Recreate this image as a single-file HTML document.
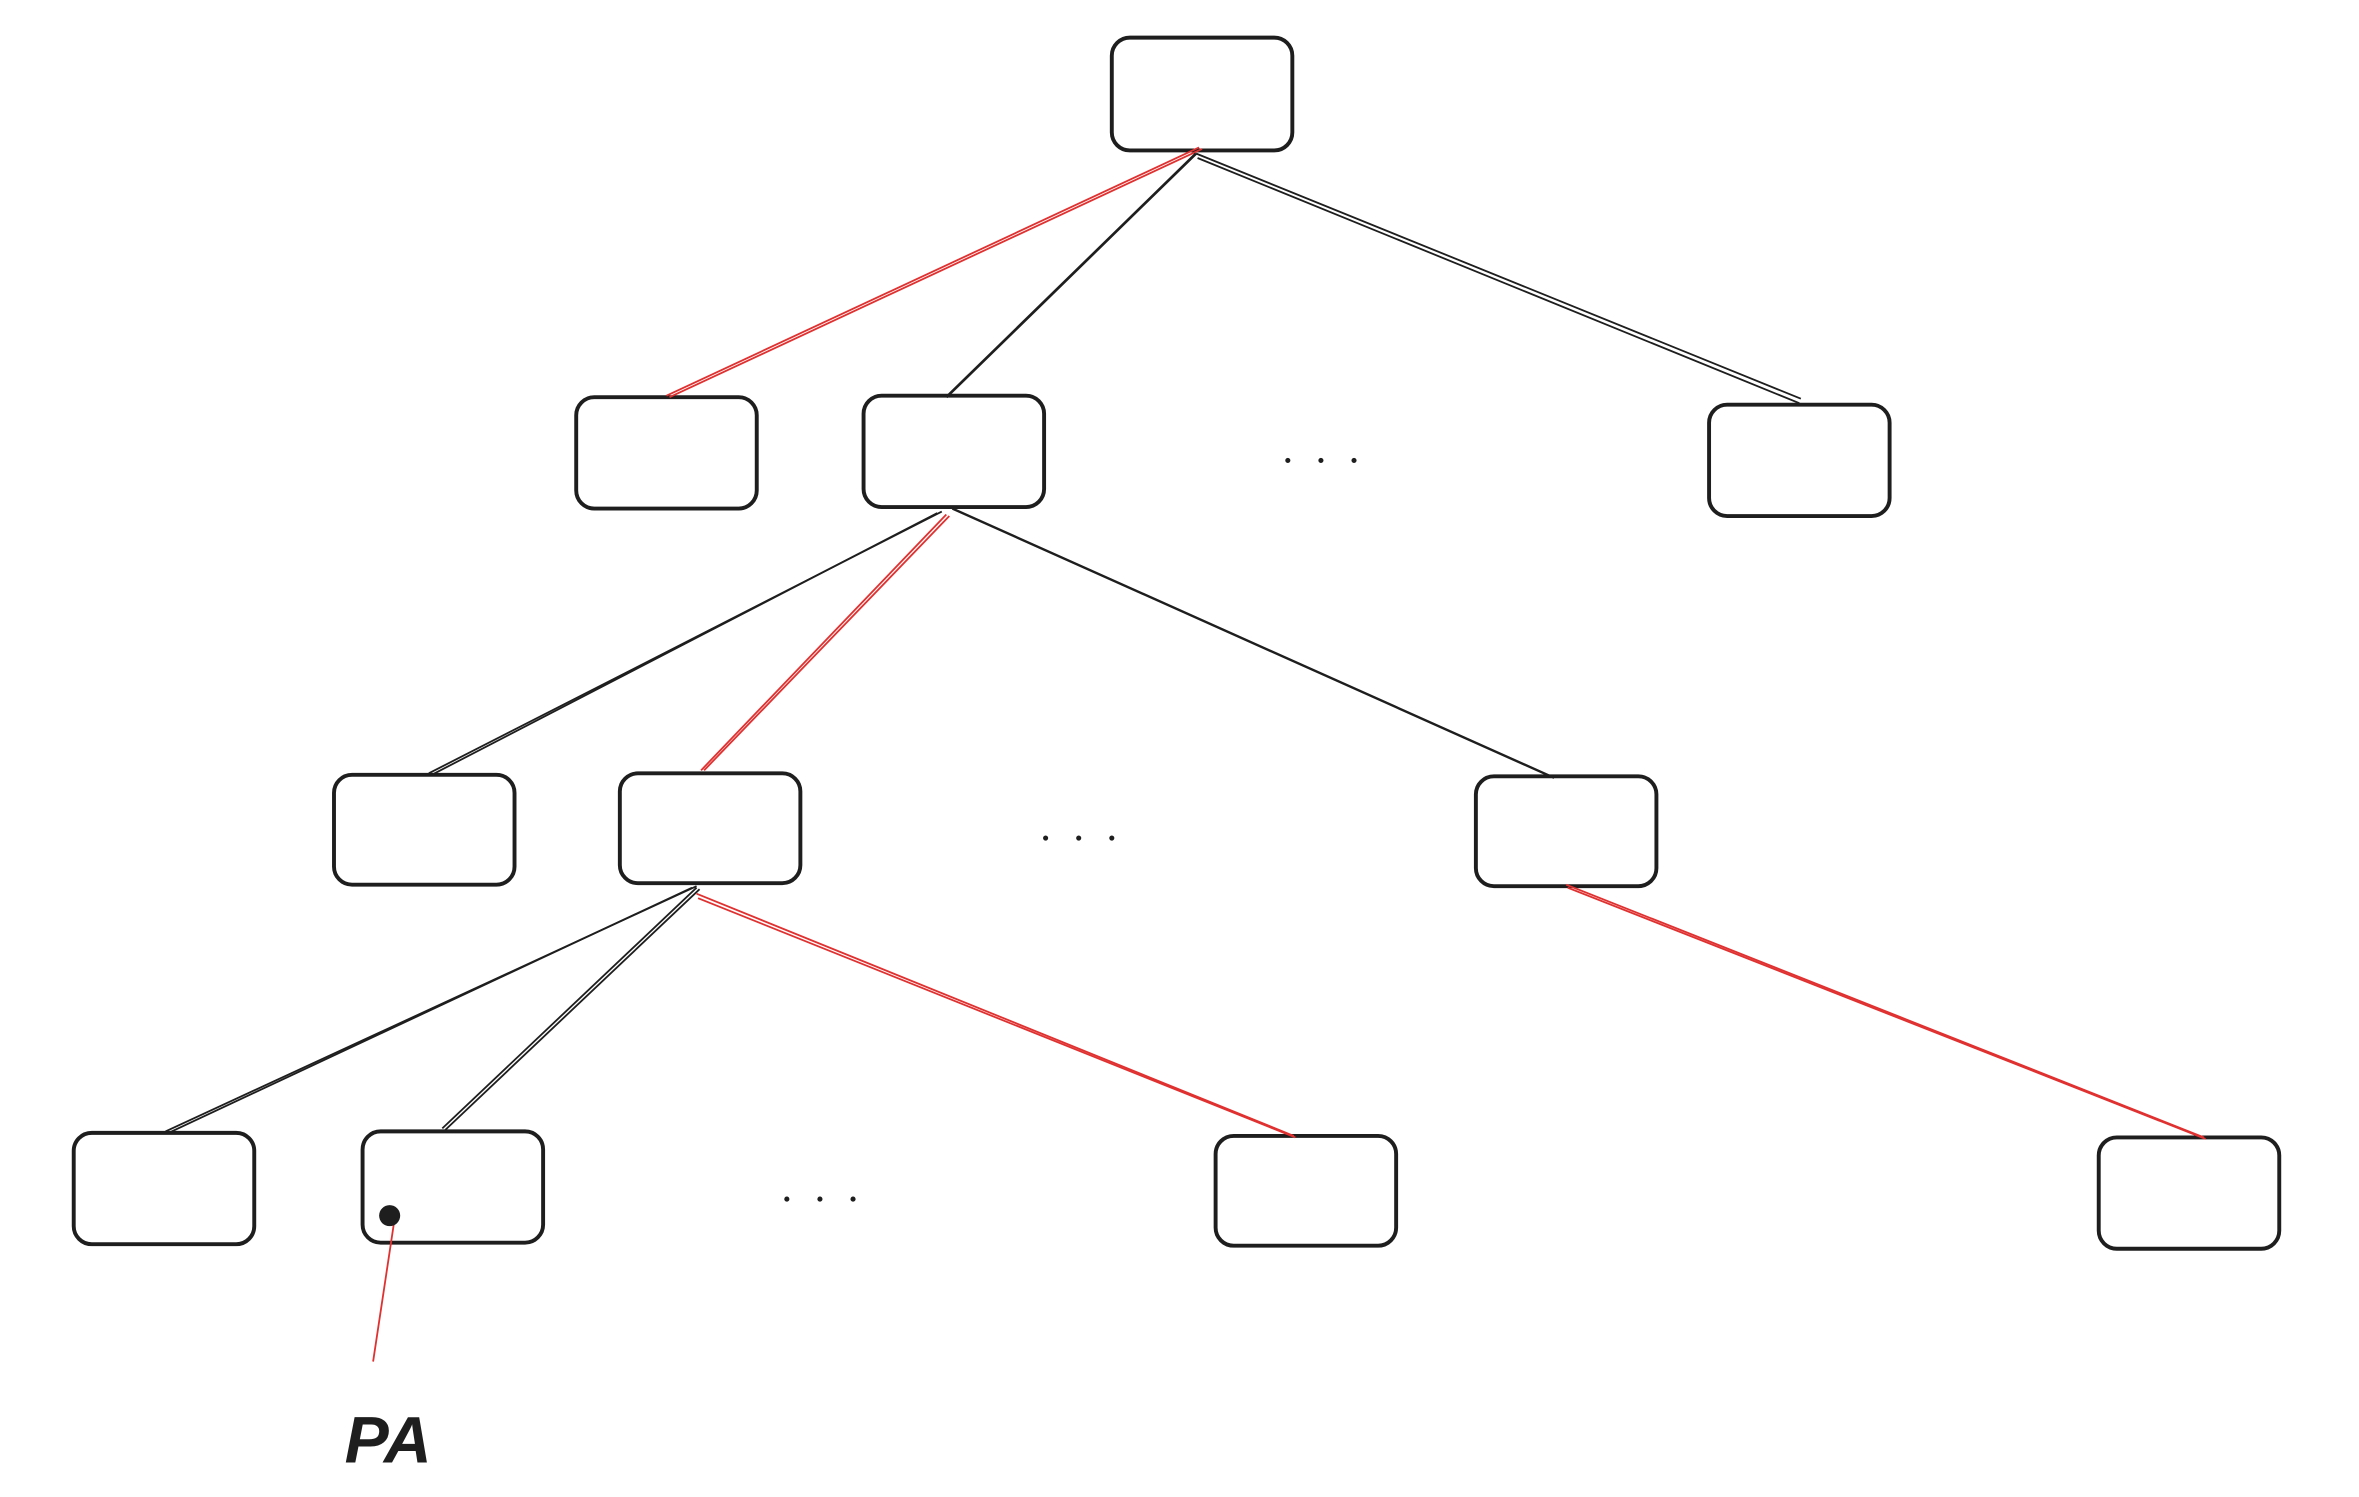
<!DOCTYPE html>
<html><head><meta charset="utf-8"><style>html,body{margin:0;padding:0;background:#fff;}svg{display:block}</style></head>
<body>
<svg width="2359" height="1497" viewBox="0 0 1568 995" xmlns="http://www.w3.org/2000/svg">
<g fill="none" stroke="#1e1e1e" stroke-width="2.6">
<rect x="739" y="25" width="120" height="75" rx="12"/>
<rect x="383" y="264" width="120" height="74" rx="12"/>
<rect x="574" y="263" width="120" height="74" rx="12"/>
<rect x="1136" y="269" width="120" height="74" rx="12"/>
<rect x="222" y="515" width="120" height="73" rx="12"/>
<rect x="412" y="514" width="120" height="73" rx="12"/>
<rect x="981" y="516" width="120" height="73" rx="12"/>
<rect x="49" y="753" width="120" height="74" rx="12"/>
<rect x="241" y="752" width="120" height="74" rx="12"/>
<rect x="808" y="755" width="120" height="73" rx="12"/>
<rect x="1395" y="756" width="120" height="74" rx="12"/>
</g>
<g stroke-width="1.2" fill="none">
<g stroke="#e03131">
<line x1="797" y1="98" x2="443" y2="263"/><line x1="799" y1="99" x2="445" y2="264"/>
<line x1="629" y1="342" x2="466" y2="512"/><line x1="631" y1="343" x2="468" y2="512"/>
<line x1="463" y1="594" x2="860" y2="755"/><line x1="464" y1="597" x2="861" y2="756"/>
<line x1="1041" y1="588" x2="1465" y2="756"/><line x1="1042" y1="590" x2="1466" y2="757"/>
<line x1="262" y1="812" x2="248" y2="905"/>
</g>
<g stroke="#1e1e1e">
<line x1="795" y1="102" x2="629" y2="264" stroke-width="1.8"/>
<line x1="795" y1="102" x2="1197" y2="265"/><line x1="796" y1="105" x2="1196" y2="268"/>
<line x1="626" y1="340" x2="285" y2="514"/><line x1="623" y1="341" x2="287" y2="515"/>
<line x1="633" y1="338" x2="1033" y2="517" stroke-width="1.6"/>
<line x1="463" y1="589" x2="110" y2="752"/><line x1="460" y1="590" x2="112" y2="753"/>
<line x1="463" y1="590" x2="294" y2="750"/><line x1="465" y1="591" x2="296" y2="751"/>
</g>
</g>
<g fill="#1e1e1e">
<circle cx="259" cy="808" r="7"/>
<circle cx="856" cy="306" r="1.7"/><circle cx="878" cy="306" r="1.7"/><circle cx="900" cy="306" r="1.7"/>
<circle cx="695" cy="557" r="1.7"/><circle cx="717" cy="557" r="1.7"/><circle cx="739" cy="557" r="1.7"/>
<circle cx="523" cy="797" r="1.7"/><circle cx="545" cy="797" r="1.7"/><circle cx="567" cy="797" r="1.7"/>
</g>
<text x="258" y="972" font-family="Liberation Sans, sans-serif" font-size="44" font-style="italic" font-weight="bold" fill="#1e1e1e" text-anchor="middle">PA</text>
</svg>
</body></html>
